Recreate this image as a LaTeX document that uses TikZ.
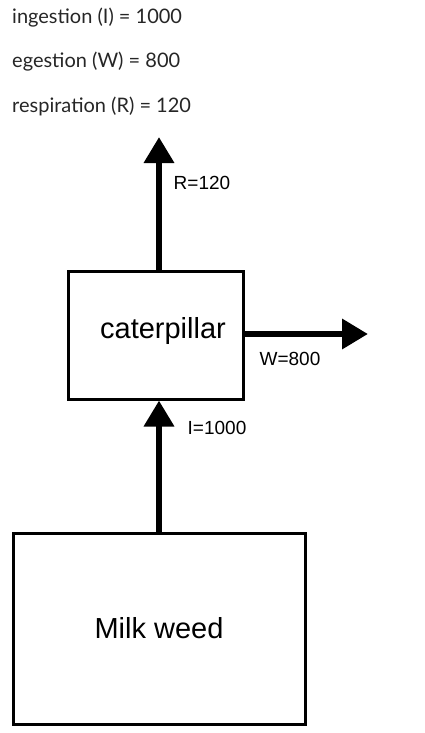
\documentclass[tikz,border=0pt]{standalone}
\usepackage{fontspec}
\setmainfont{Lato}
\newfontfamily\arialfont{Liberation Sans}
\usetikzlibrary{arrows.meta}
\begin{document}
\begin{tikzpicture}[x=1pt,y=-1pt,
  toptext/.style={anchor=west,inner sep=0pt,font=\fontsize{20}{24}\selectfont,text=black!85},
  boxnode/.style={draw,line width=3pt,inner sep=0pt,font=\arialfont\fontsize{29}{34}\selectfont},
  flow/.style={line width=6.5pt,-{Triangle[width=29pt,length=26pt]}},
  flowlabel/.style={inner sep=0pt,font=\arialfont\fontsize{19}{22}\selectfont}]
\useasboundingbox (0,0) rectangle (424,733);
\node[toptext] (t1) at (12,18) {ingestion (I) = 1000};
\node[toptext] (t2) at (12,62) {egestion (W) = 800};
\node[toptext] (t3) at (12,106) {respiration (R) = 120};
\node[boxnode,minimum width=175pt,minimum height=128pt] (cat) at (155.5,335) {};
\node[inner sep=0pt,font=\arialfont\fontsize{29}{34}\selectfont] (catlabel) at (163,331) {caterpillar};
\node[boxnode,minimum width=292pt,minimum height=191pt] (milk) at (159,628.5) {Milk weed};
\coordinate (rtip) at (159,137);
\coordinate (wtip) at (368,334);
\draw[flow] (rtip |- cat.north) -- (rtip);
\draw[flow] (cat.east |- wtip) -- (wtip);
\draw[flow] (milk.north) -- (milk.north |- cat.south);
\node[flowlabel] (rl) at (202,183) {R=120};
\node[flowlabel] (wl) at (290,359) {W=800};
\node[flowlabel] (il) at (217,428) {I=1000};
\end{tikzpicture}
\end{document}
